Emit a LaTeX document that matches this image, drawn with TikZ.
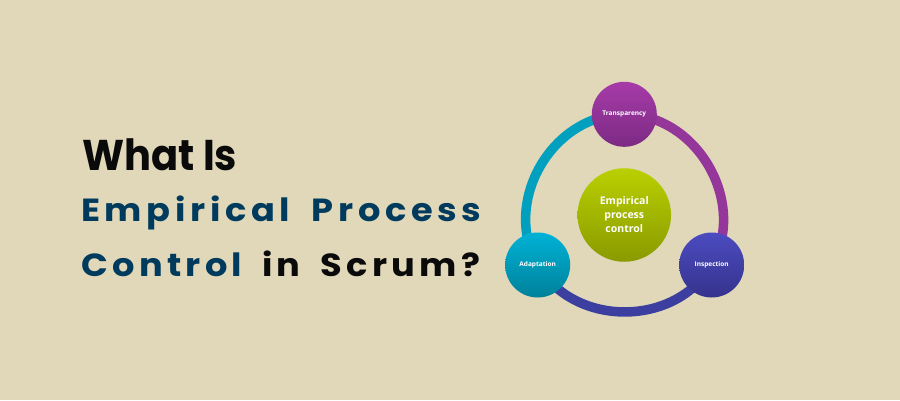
\documentclass[tikz,border=0pt]{standalone}
\usepackage{fontspec}
\usetikzlibrary{backgrounds}
\setmainfont{Open Sans}
\newfontfamily\titlefont{Poppins}[BoldFont={Poppins Bold},BoldFeatures={FakeStretch=0.93}]
\newfontfamily\spacedfont{Poppins}[BoldFont={Poppins Bold},BoldFeatures={FakeStretch=1.1},LetterSpace=14.5,WordSpace=1.8]
\newfontfamily\spacedfontb{Poppins}[BoldFont={Poppins Bold},BoldFeatures={FakeStretch=1.1},LetterSpace=13.5,WordSpace=1.7]
\definecolor{bgc}{HTML}{E0D8B9}
\definecolor{navy}{HTML}{003B5E}
\definecolor{inkc}{HTML}{0A0A0A}
\definecolor{arcpurple}{HTML}{94369A}
\definecolor{arcblue}{HTML}{3C3FA0}
\definecolor{arccyan}{HTML}{00A0BE}
\definecolor{purpleT}{HTML}{A63BA8}
\definecolor{purpleB}{HTML}{7C2A84}
\definecolor{blueT}{HTML}{4C4BC0}
\definecolor{blueB}{HTML}{35338C}
\definecolor{cyanT}{HTML}{00B2D6}
\definecolor{cyanB}{HTML}{00819A}
\definecolor{greenT}{HTML}{BAD000}
\definecolor{greenB}{HTML}{8A9A00}
\tikzset{
  disc/.style={circle,inner sep=0pt,minimum size=65pt,text=white,font=\bfseries\fontsize{6.5}{8}\selectfont,align=center},
  ringarc/.style={line width=9.5pt,bend left=60,looseness=1.065},
  titleline/.style={anchor=base west,inner sep=0pt},
}
\begin{document}
\begin{tikzpicture}[x=1pt,y=-1pt]
\useasboundingbox (0,0) rectangle (900,400);
\node[disc,top color=purpleT,bottom color=purpleB] (transparency) at (624.3,114.3) {Transparency};
\node[disc,top color=blueT,bottom color=blueB] (inspection) at (711.7,265) {Inspection};
\node[disc,top color=cyanT,bottom color=cyanB] (adaptation) at (537.7,265) {Adaptation};
\node[disc,minimum size=93.5pt,top color=greenT,bottom color=greenB,font=\bfseries\fontsize{10.5}{14}\selectfont] (centre) at (624.3,215) {Empirical\\process\\control};
\node[titleline,text=inkc,font=\titlefont\bfseries\fontsize{43}{43}\selectfont] (l1) at (82,170) {What Is};
\node[titleline,text=navy,font=\spacedfont\bfseries\fontsize{32}{32}\selectfont] (l2) at (81,221.7) {Empirical Process};
\node[titleline,text=inkc,font=\spacedfontb\bfseries\fontsize{32}{32}\selectfont] (l3) at (81,276.7) {\textcolor{navy}{Control} in Scrum?};
\begin{scope}[on background layer]
\fill[bgc] (0,0) rectangle (900,400);
\draw[ringarc,color=arcpurple] (transparency.center) to (inspection.center);
\draw[ringarc,color=arcblue] (inspection.center) to (adaptation.center);
\draw[ringarc,color=arccyan] (adaptation.center) to (transparency.center);
\end{scope}
\end{tikzpicture}
\end{document}
